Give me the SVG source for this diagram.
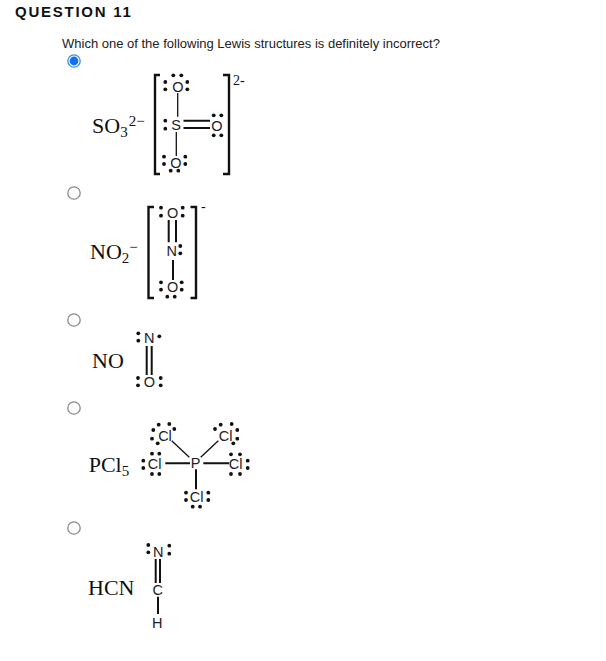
<svg xmlns="http://www.w3.org/2000/svg" width="606" height="661" viewBox="0 0 606 661">
<style>
.s{font-family:"Liberation Serif","Times New Roman",serif;font-size:22px;fill:#111}
.u{font-size:15px}
.a{font-family:"Liberation Sans",Arial,sans-serif;font-size:14.5px;fill:#222;text-anchor:middle}
.b{stroke:#111;fill:none;stroke-width:1.3}
.t{stroke:#111;fill:none;stroke-width:2}
.k{stroke:#111;fill:none;stroke-width:2.4}
.d{fill:#111}
.r{fill:#fff;stroke:#8a8a8a;stroke-width:1.3}
</style>
<defs><circle id="p" r="1.9" class="d"/></defs>
<rect width="606" height="661" fill="#fff"/>
<g id="heading">
<text x="15" y="17" font-family="Liberation Sans,Arial,sans-serif" font-size="15" font-weight="700" letter-spacing="1.75" fill="#111">QUESTION 11</text>
<text x="62" y="48" font-family="Liberation Sans,Arial,sans-serif" font-size="13" fill="#222">Which one of the following Lewis structures is definitely incorrect?</text>
</g>
<g id="radios">
<circle cx="74" cy="61" r="6.2" fill="#fff" stroke="#3b8bf5" stroke-width="1.3"/><circle cx="74" cy="61" r="4.4" fill="#1170f0"/>
<circle cx="74" cy="193" r="6.2" class="r"/>
<circle cx="74" cy="320" r="6.2" class="r"/>
<circle cx="74" cy="408" r="6.2" class="r"/>
<circle cx="74" cy="528" r="6.2" class="r"/>
</g>
<g id="connectors">
<path class="b" d="M177.7 93V116.700M176.300 132V156"/>
<path class="t" d="M183.500 120.700H210M183.500 128H210"/>
<path class="t" d="M168.700 220V242.300M176 220V242.300"/>
<path class="t" d="M173 260V280"/>
<path class="t" d="M146.700 346V375M151.700 346V375"/>
<path class="b" d="M171.700 440.700L189.300 457.300M218.300 440.700L200.700 457.300"/>
<path class="t" d="M165.300 463.300H190M203.300 463.300H229M196 469.300V489.300"/>
<path class="t" d="M155.700 559V583M160 559V583"/>
<path class="t" d="M158 596.700V614"/>
</g>
<g id="so3">
<text class="s" x="92" y="133">SO<tspan class="u" dy="4">3</tspan><tspan class="u" dy="-11" dx="1">2−</tspan></text>
<path class="k" d="M160 75H155V174H160M223 75H229V174H223"/>
<text x="233" y="85" font-family="Liberation Serif,serif" font-size="14" fill="#111">2-</text>
<text class="a" x="178" y="91.500">O</text><text class="a" x="176" y="129.500">S</text><text class="a" x="217" y="130.500">O</text><text class="a" x="176" y="167.500">O</text>
<use href="#p" x="173.300" y="75.300"/><use href="#p" x="181.300" y="75.300"/><use href="#p" x="165.300" y="82"/><use href="#p" x="165.300" y="89.300"/><use href="#p" x="187.300" y="82"/><use href="#p" x="187.300" y="89.300"/>
<use href="#p" x="165.300" y="120.700"/><use href="#p" x="165.300" y="128.700"/>
<use href="#p" x="213.700" y="115.300"/><use href="#p" x="221.300" y="115.300"/><use href="#p" x="213.700" y="135.300"/><use href="#p" x="221.300" y="135.300"/>
<use href="#p" x="164" y="156.700"/><use href="#p" x="164" y="164"/><use href="#p" x="185.300" y="156.700"/><use href="#p" x="185.300" y="164"/><use href="#p" x="170.700" y="170.700"/><use href="#p" x="178.300" y="170.700"/>
</g>
<g id="no2">
<text class="s" x="90" y="259">NO<tspan class="u" dy="4">2</tspan><tspan class="u" dy="-11">−</tspan></text>
<path class="k" d="M154 207H148.500V298H154M190.500 207H196V298H190.500"/>
<text x="201" y="211" font-family="Liberation Serif,serif" font-size="14" fill="#111">-</text>
<text class="a" x="172.700" y="217.500">O</text><text class="a" x="171.700" y="256">N</text><text class="a" x="172.700" y="292">O</text>
<use href="#p" x="161" y="207.700"/><use href="#p" x="161" y="215.700"/><use href="#p" x="182.700" y="207.700"/><use href="#p" x="182.700" y="215.700"/>
<use href="#p" x="180.300" y="246"/><use href="#p" x="180.300" y="253.300"/>
<use href="#p" x="161" y="282.300"/><use href="#p" x="161" y="289.700"/><use href="#p" x="181.700" y="282.300"/><use href="#p" x="181.700" y="289.700"/><use href="#p" x="167.300" y="296.700"/><use href="#p" x="174.700" y="296.700"/>
</g>
<g id="no">
<text class="s" x="92" y="368">NO</text>
<text class="a" x="149.300" y="342.500">N</text><text class="a" x="149.300" y="386.500">O</text>
<use href="#p" x="138.300" y="333.300"/><use href="#p" x="138.300" y="340.700"/><use href="#p" x="159.300" y="336.300"/>
<use href="#p" x="138" y="378"/><use href="#p" x="138" y="385.300"/><use href="#p" x="160.700" y="378"/><use href="#p" x="160.700" y="385.300"/>
</g>
<g id="pcl5">
<text class="s" x="88.700" y="472">PCl<tspan class="u" dy="4">5</tspan></text>
<text class="a" x="165" y="440.500">Cl</text><text class="a" x="225.700" y="440.500">Cl</text><text class="a" x="154.700" y="469">Cl</text><text class="a" x="235.700" y="469">Cl</text><text class="a" x="196.700" y="501.500">Cl</text><text class="a" x="195.700" y="468">P</text>
<use href="#p" x="158.700" y="424.700"/><use href="#p" x="169.300" y="424"/><use href="#p" x="174.300" y="429"/><use href="#p" x="153.300" y="430"/><use href="#p" x="152" y="438.700"/><use href="#p" x="157.700" y="443.300"/>
<use href="#p" x="220.700" y="424.700"/><use href="#p" x="231.700" y="424"/><use href="#p" x="215" y="429"/><use href="#p" x="237.300" y="430"/><use href="#p" x="237.300" y="438.700"/><use href="#p" x="233.300" y="443.300"/>
<use href="#p" x="152" y="453.700"/><use href="#p" x="159.300" y="453.700"/><use href="#p" x="143.300" y="460.700"/><use href="#p" x="143.300" y="468"/><use href="#p" x="152" y="474"/><use href="#p" x="159.300" y="474"/>
<use href="#p" x="231" y="454.300"/><use href="#p" x="240" y="454.300"/><use href="#p" x="247.700" y="460.700"/><use href="#p" x="247.700" y="468"/><use href="#p" x="231" y="474"/><use href="#p" x="240" y="474"/>
<use href="#p" x="186" y="492.700"/><use href="#p" x="186" y="500"/><use href="#p" x="208.300" y="492.700"/><use href="#p" x="208.300" y="500"/><use href="#p" x="192.700" y="506.700"/><use href="#p" x="200" y="506.700"/>
</g>
<g id="hcn">
<text class="s" x="88" y="595">HCN</text>
<text class="a" x="158.300" y="556.500">N</text><text class="a" x="157.700" y="595">C</text><text class="a" x="157.300" y="627.500">H</text>
<use href="#p" x="148.300" y="545"/><use href="#p" x="148.300" y="552.300"/><use href="#p" x="169.300" y="545.700"/><use href="#p" x="169.300" y="553.700"/>
</g>
</svg>
